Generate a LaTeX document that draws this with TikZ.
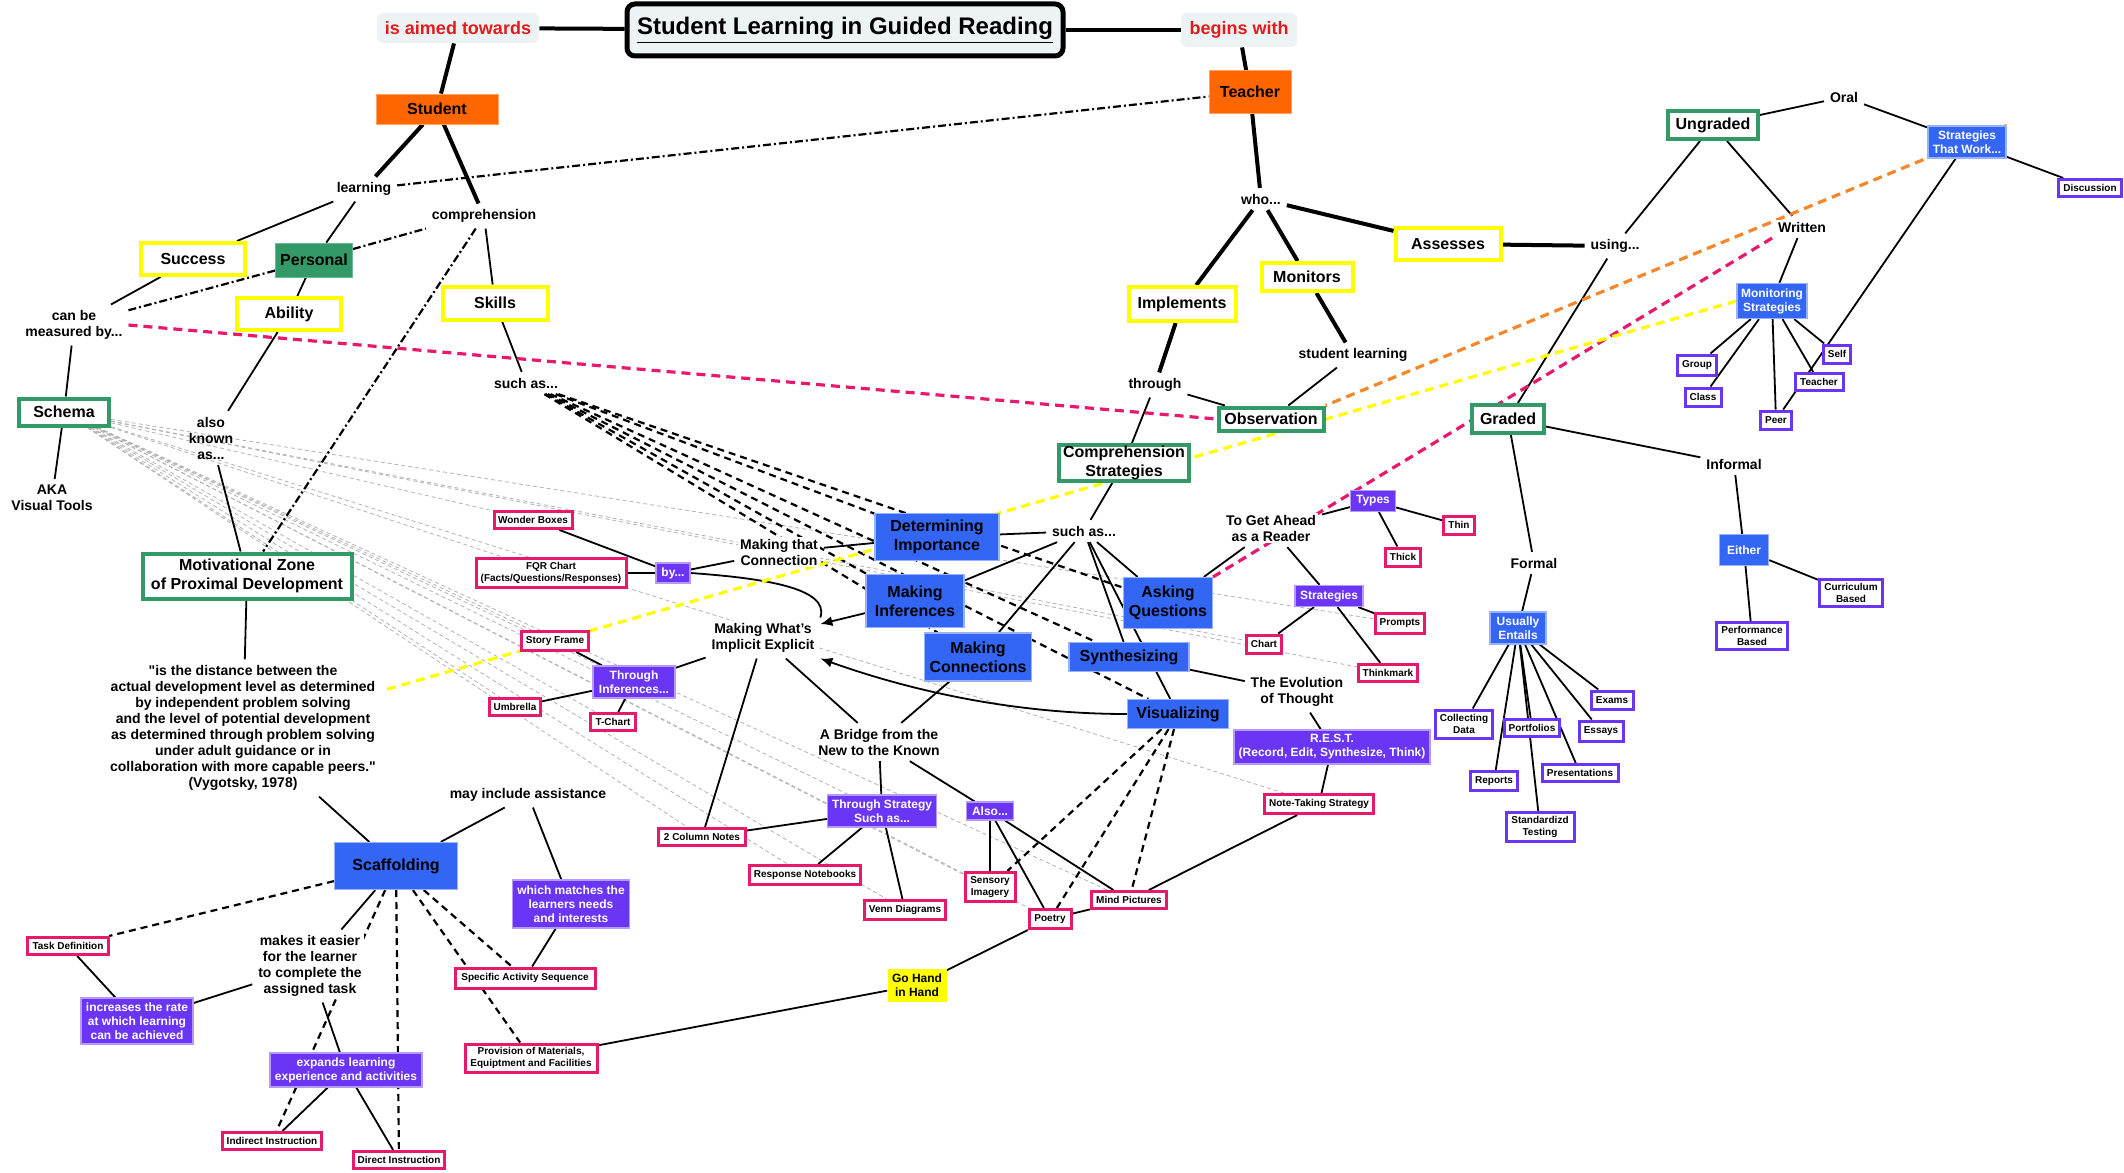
\documentclass[tikz,border=0pt]{standalone}
\usepackage{fontspec}
\setmainfont{Liberation Sans}
\usepackage{xcolor}
\usepackage{tikz}
\usetikzlibrary{arrows.meta,positioning,calc,backgrounds}

\definecolor{orangefill}{HTML}{FF6600}
\definecolor{boxyellow}{HTML}{FFFF00}
\definecolor{boxgreen}{HTML}{339966}
\definecolor{boxblue}{HTML}{3366F5}
\definecolor{boxpurple}{HTML}{6A35F5}
\definecolor{boxpink}{HTML}{E6196A}
\definecolor{labelfill}{HTML}{EDF3F5}
\definecolor{linkred}{HTML}{E31B1B}
\definecolor{dashorange}{HTML}{F5862A}
\definecolor{dashpink}{HTML}{E8196C}

\newcommand{\fbig}{\bfseries\fontsize{8}{9.5}\selectfont}
\newcommand{\fmid}{\bfseries\fontsize{7}{8}\selectfont}
\newcommand{\fsix}{\bfseries\fontsize{6}{7}\selectfont}
\newcommand{\fsmall}{\bfseries\fontsize{5}{5.8}\selectfont}

\begin{document}
\begin{tikzpicture}[
    x=0.5pt, y=-0.5pt,
    every node/.style={align=center, inner xsep=2pt, inner ysep=1pt},
    wh/.style 2 args={minimum width=#1, minimum height=#2},
    titlebox/.style={draw, line width=2.5pt, rounded corners=4pt, fill=labelfill, font=\bfseries\fontsize{12}{14}\selectfont},
    redlink/.style={fill=labelfill, rounded corners=3pt, text=linkred, font=\bfseries\fontsize{9}{10}\selectfont},
    orangebox/.style={fill=orangefill, draw=orangefill!60, font=\fbig},
    yellowbox/.style={draw=boxyellow, line width=2pt, fill=white, font=\fbig},
    greenbox/.style={draw=boxgreen, line width=2pt, fill=white, font=\fbig},
    greenfill/.style={fill=boxgreen, draw=boxgreen!70, font=\fbig},
    bluebox/.style={fill=boxblue, draw=boxblue!50!white, line width=0.6pt, font=\fbig},
    bluesmall/.style={fill=boxblue, draw=boxblue!50!white, line width=0.6pt, text=white, font=\fsix},
    purplebox/.style={fill=boxpurple, draw=boxpurple!50!white, line width=0.6pt, text=white, font=\fsix},
    pinkbox/.style={draw=boxpink, line width=1.5pt, fill=white, font=\fsmall},
    violetbox/.style={draw=boxpurple, line width=1.5pt, fill=white, font=\fsmall},
    gobox/.style={fill=boxyellow, font=\fsix},
    phrase/.style={fill=white, inner sep=1pt, outer sep=2pt, font=\fmid},
    thickln/.style={line width=2pt},
    thinln/.style={line width=0.9pt},
    ddln/.style={line width=1.1pt, dash pattern=on 4pt off 1.5pt on 1pt off 1.5pt},
    bdash/.style={line width=1.1pt, dash pattern=on 3.5pt off 2.5pt},
    pinkdash/.style={draw=dashpink, line width=1.6pt, dash pattern=on 4.5pt off 3pt},
    orangedash/.style={draw=dashorange, line width=1.6pt, dash pattern=on 4.5pt off 3pt},
    yellowdash/.style={draw=boxyellow, line width=1.6pt, dash pattern=on 4.5pt off 3pt},
    graydash/.style={draw=gray!60, line width=0.4pt, dash pattern=on 2pt off 1.5pt},
    arrowln/.style={thinln, -{Latex[length=6pt,width=5pt]}}
]
\useasboundingbox (0,0) rectangle (2124,1172);

% Title and top links
\node[titlebox, wh={218pt}{26pt}] (title) at (845,30) {\underline{Student Learning in Guided Reading}};
\node[redlink, wh={81pt}{15pt}] (isaimed) at (458,28) {is aimed towards};
\node[redlink, wh={58pt}{17pt}] (begins) at (1239,30) {begins with};
\node[orangebox, wh={61pt}{15pt}] (student) at (437,109) {Student};
\node[orangebox, wh={41pt}{21.5pt}] (teacher) at (1250,92) {Teacher};

% Student side
\node[phrase] (learning) at (364,189) {learning};
\node[phrase] (comprehension) at (484,216) {comprehension};
\node[yellowbox, wh={52pt}{16pt}] (success) at (193,259) {Success};
\node[greenfill, wh={38.5pt}{17pt}] (personal) at (314,260) {Personal};
\node[yellowbox, wh={52pt}{16pt}] (ability) at (289,314) {Ability};
\node[yellowbox, wh={52.5pt}{16.5pt}] (skills) at (495,303) {Skills};
\node[phrase] (canbe) at (74,325) {can be\\measured by...};
\node[greenbox, wh={45pt}{13.5pt}] (schema) at (64,412) {Schema};
\node[phrase] (aka) at (52,498) {AKA\\Visual Tools};
\node[phrase, fill=none] (alsoknown) at (211,438) {also\\known\\as...};
\node[greenbox, wh={104.5pt}{22.5pt}] (motivzone) at (247,576) {Motivational Zone\\of Proximal Development};
\node[phrase] (quote) at (243,728) {\textquotedbl is the distance between the\\actual development level as determined\\by independent problem solving\\and the level of potential development\\as determined through problem solving\\under adult guidance or in\\collaboration with more capable peers.\textquotedbl\\(Vygotsky, 1978)};
\node[phrase] (suchasA) at (526,383) {such as...};

% Teacher side
\node[phrase] (who) at (1261,199) {who...};
\node[yellowbox, wh={53.5pt}{17pt}] (implements) at (1182,304) {Implements};
\node[yellowbox, wh={45.5pt}{14pt}] (monitors) at (1307,277) {Monitors};
\node[yellowbox, wh={52.5pt}{16pt}] (assesses) at (1448,244) {Assesses};
\node[phrase] (studlearn) at (1353,355) {student learning};
\node[phrase] (through) at (1155,385) {through};
\node[greenbox, wh={52.5pt}{11.5pt}] (observation) at (1271,419) {Observation};
\node[greenbox, wh={64.5pt}{18pt}, inner ysep=0.5pt] (compstrat) at (1124,463) {Comprehension\\Strategies};

% Assessment
\node[phrase] (using) at (1615,246) {using...};
\node[greenbox, wh={45pt}{14pt}] (ungraded) at (1713,125) {Ungraded};
\node[phrase] (oral) at (1844,97) {Oral};
\node[bluesmall, wh={39pt}{16pt}] (stw) at (1967,142) {Strategies\\That Work...};
\node[violetbox, wh={31.5pt}{8.5pt}] (discussion) at (2090,188) {Discussion};
\node[phrase] (written) at (1802,227) {Written};
\node[bluesmall, wh={35pt}{17.5pt}] (ms) at (1772,301) {Monitoring\\Strategies};
\node[violetbox, wh={19.5pt}{10pt}] (group) at (1697,365) {Group};
\node[violetbox, wh={18pt}{9pt}] (class) at (1703,397) {Class};
\node[violetbox, wh={15.5pt}{9pt}] (peer) at (1776,420) {Peer};
\node[violetbox, wh={24pt}{8.5pt}] (tsmall) at (1819,382) {Teacher};
\node[violetbox, wh={13.5pt}{9pt}] (self) at (1837,354) {Self};
\node[greenbox, wh={36pt}{14pt}] (graded) at (1508,419) {Graded};
\node[phrase] (informal) at (1734,464) {Informal};
\node[bluesmall, wh={24.5pt}{15.5pt}] (either) at (1744,550) {Either};
\node[violetbox, wh={31.5pt}{13.5pt}] (curric) at (1851,593) {Curriculum\\Based};
\node[violetbox, wh={35.5pt}{13.5pt}] (perf) at (1752,636) {Performance\\Based};
\node[phrase] (formal) at (1534,563) {Formal};
\node[bluesmall, wh={28pt}{16pt}] (entails) at (1518,628) {Usually\\Entails};
\node[violetbox, wh={28.5pt}{14pt}] (collecting) at (1464,724) {Collecting\\Data};
\node[violetbox, wh={27.5pt}{8.5pt}] (portfolios) at (1532,728) {Portfolios};
\node[violetbox, wh={23.5pt}{9.5pt}] (reports) at (1494,781) {Reports};
\node[violetbox, wh={34pt}{14.5pt}] (standardizd) at (1540,827) {Standardizd\\Testing};
\node[violetbox, wh={38pt}{8.5pt}] (presentations) at (1580,773) {Presentations};
\node[violetbox, wh={22pt}{10pt}] (essays) at (1601,731) {Essays};
\node[violetbox, wh={21pt}{9pt}] (exams) at (1612,700) {Exams};

% Comprehension strategies
\node[phrase] (suchasB) at (1084,531) {such as...};
\node[bluebox, wh={62pt}{23.5pt}] (detimp) at (937,537) {Determining\\Importance};
\node[bluebox, wh={49pt}{26.5pt}] (makinf) at (915,601) {Making\\Inferences};
\node[bluebox, wh={53.5pt}{24pt}] (makconn) at (978,657) {Making\\Connections};
\node[bluebox, wh={44.5pt}{25.5pt}] (askq) at (1168,603) {Asking\\Questions};
\node[bluebox, wh={60pt}{14.5pt}] (synth) at (1129,657) {Synthesizing};
\node[bluebox, wh={50.5pt}{14.5pt}] (visual) at (1178,714) {Visualizing};

% Asking questions and synthesizing
\node[phrase] (toget) at (1271,528) {To Get Ahead\\as a Reader};
\node[purplebox, wh={22.5pt}{10.5pt}] (types) at (1373,501) {Types};
\node[pinkbox, wh={15.5pt}{9pt}] (thin) at (1459,525) {Thin};
\node[pinkbox, wh={17.5pt}{9pt}] (thick) at (1403,557) {Thick};
\node[purplebox, wh={34pt}{10.5pt}] (strats) at (1329,596) {Strategies};
\node[pinkbox, wh={24.5pt}{10pt}] (prompts) at (1400,623) {Prompts};
\node[pinkbox, wh={17.5pt}{9pt}] (chart) at (1264,644) {Chart};
\node[pinkbox, wh={29.5pt}{8.5pt}] (thinkmark) at (1388,673) {Thinkmark};
\node[phrase] (evolution) at (1297,692) {The Evolution\\of Thought};
\node[purplebox, wh={98pt}{17pt}] (rest) at (1332,747) {R.E.S.T.\\(Record, Edit, Synthesize, Think)};
\node[pinkbox, wh={54.5pt}{9.5pt}] (notetaking) at (1319,804) {Note-Taking Strategy};
\node[pinkbox, wh={37.5pt}{8.5pt}] (mindpics) at (1129,900) {Mind Pictures};

% Inferences and connections
\node[pinkbox, wh={39pt}{8.5pt}] (wonder) at (533,520) {Wonder Boxes};
\node[pinkbox, wh={75pt}{14.5pt}] (fqr) at (551,573) {FQR Chart\\(Facts/Questions/Responses)};
\node[purplebox, wh={17pt}{10pt}] (by) at (673,573) {by...};
\node[phrase] (makingconn) at (779,552) {Making that\\Connection};
\node[phrase] (mwie) at (763,638) {Making What's\\Implicit Explicit};
\node[pinkbox, wh={33.5pt}{9.5pt}] (storyframe) at (555,641) {Story Frame};
\node[purplebox, wh={41pt}{16pt}] (thrinf) at (634,682) {Through\\Inferences...};
\node[pinkbox, wh={25pt}{8.5pt}] (umbrella) at (515,707) {Umbrella};
\node[pinkbox, wh={22.5pt}{8.5pt}] (tchart) at (613,722) {T-Chart};
\node[phrase] (bridge) at (879,742) {A Bridge from the\\New to the Known};
\node[pinkbox, wh={43.5pt}{8.5pt}] (twocol) at (702,837) {2 Column Notes};
\node[purplebox, wh={54.5pt}{16pt}] (thrstrat) at (882,811) {Through Strategy\\Such as...};
\node[pinkbox, wh={55.5pt}{9.5pt}] (resp) at (805,875) {Response Notebooks};
\node[pinkbox, wh={40.5pt}{9.5pt}] (venn) at (905,910) {Venn Diagrams};
\node[purplebox, wh={23.5pt}{9pt}] (also) at (990,811) {Also...};
\node[pinkbox, wh={25pt}{14.5pt}] (sensory) at (990,887) {Sensory\\Imagery};
\node[pinkbox, wh={21pt}{9.5pt}] (poetry) at (1050,919) {Poetry};
\node[gobox, wh={29.5pt}{16.5pt}] (gohand) at (917,985) {Go Hand\\in Hand};

% Scaffolding
\node[phrase] (mayinclude) at (528,795) {may include assistance};
\node[purplebox, wh={58.5pt}{24pt}] (matches) at (571,904) {which matches the\\learners needs\\and interests};
\node[pinkbox, wh={70pt}{10pt}] (sas) at (525,978) {Specific Activity Sequence};
\node[pinkbox, wh={66pt}{14pt}] (provision) at (531,1058) {Provision of Materials,\\Equiptment and Facilities};
\node[bluebox, wh={61.5pt}{23.5pt}] (scaffolding) at (396,866) {Scaffolding};
\node[pinkbox, wh={40.5pt}{8.5pt}] (taskdef) at (68,946) {Task Definition};
\node[purplebox, wh={56pt}{23pt}] (increases) at (137,1021) {increases the rate\\at which learning\\can be achieved};
\node[phrase] (easier) at (310,966) {makes it easier\\for the learner\\to complete the\\assigned task};
\node[purplebox, wh={76pt}{17pt}] (expands) at (346,1070) {expands learning\\experience and activities};
\node[pinkbox, wh={49.5pt}{8.5pt}] (indirect) at (272,1141) {Indirect Instruction};
\node[pinkbox, wh={45.5pt}{8.5pt}] (direct) at (399,1160) {Direct Instruction};

\begin{scope}[on background layer]
\fill[white] (0,0) rectangle (2124,1172);

% Gray links from Schema
\draw[graydash] (schema) -- (wonder);
\draw[graydash] (schema) -- (fqr);
\draw[graydash] (schema) -- (storyframe);
\draw[graydash] (schema) -- (umbrella);
\draw[graydash] (schema) -- (tchart);
\draw[graydash] (schema) -- (thrinf);
\draw[graydash] (schema) -- (twocol);
\draw[graydash] (schema) -- (resp);
\draw[graydash] (schema) -- (thrstrat);
\draw[graydash] (schema) -- (venn);
\draw[graydash] (schema) -- (sensory);
\draw[graydash] (schema) -- (poetry);
\draw[graydash] (schema) -- (mindpics);
\draw[graydash] (schema) -- (notetaking);
\draw[graydash] (schema) -- (chart);
\draw[graydash] (schema) -- (prompts);
\draw[graydash] (schema) -- (thinkmark);

% Main links
\draw[thickln] (isaimed) -- (title);
\draw[thickln] (title) -- (begins);
\draw[thickln] (isaimed) -- (student);
\draw[thickln] (begins) -- (teacher);
\draw[thickln] (student) -- (learning);
\draw[thickln] (student) -- (comprehension);
\draw[thickln] (teacher) -- (who);
\draw[thickln] (who) -- (implements);
\draw[thickln] (who) -- (monitors);
\draw[thickln] (who) -- (assesses);
\draw[thickln] (assesses) -- (using);
\draw[thickln] (implements) -- (through);
\draw[thickln] (monitors) -- (studlearn);

% Dash-dot links
\draw[ddln] (learning) -- (teacher);
\draw[ddln] (personal) -- (comprehension.south west);
\draw[ddln] (personal) -- (canbe);
\draw[ddln] (comprehension) -- (motivzone);

% Student side
\draw[thinln] (learning) -- (success);
\draw[thinln] (learning) -- (personal);
\draw[thinln] (success) -- (canbe);
\draw[thinln] (personal) -- (ability);
\draw[thinln] (ability) -- (alsoknown);
\draw[thinln] (comprehension) -- (skills);
\draw[thinln] (skills) -- (suchasA);
\draw[thinln] (canbe) -- (schema);
\draw[thinln] (schema) -- (aka);
\draw[thinln] (alsoknown) -- (motivzone);
\draw[thinln] (motivzone) -- (quote);
\draw[thinln] (quote) -- (scaffolding);

% Scaffolding
\draw[thinln] (mayinclude) -- (scaffolding);
\draw[thinln] (mayinclude) -- (matches);
\draw[thinln] (matches) -- (sas);
\draw[thinln] (taskdef) -- (increases);
\draw[thinln] (increases) -- (easier);
\draw[thinln] (scaffolding) -- (easier);
\draw[thinln] (easier) -- (expands);
\draw[thinln] (expands) -- (indirect);
\draw[thinln] (expands) -- (direct);
\draw[bdash] (scaffolding) -- (taskdef);
\draw[bdash] (scaffolding) -- (indirect);
\draw[bdash] (scaffolding) -- (direct);
\draw[bdash] (scaffolding) -- (sas);
\draw[bdash] (scaffolding) -- (provision);
\draw[thinln] (gohand) -- (provision);

% Strategies from Skills
\draw[bdash] (suchasA) -- (detimp);
\draw[bdash] (suchasA) -- (makinf);
\draw[bdash] (suchasA) -- (makconn);
\draw[bdash] (suchasA) -- (askq);
\draw[bdash] (suchasA) -- (synth);
\draw[bdash] (suchasA) -- (visual);

% Inferences and connections
\draw[thinln] (wonder) -- (by);
\draw[thinln] (fqr) -- (by);
\draw[thinln] (by) -- (makingconn);
\draw[thinln] (makingconn) -- (detimp);
\draw[thinln] (by.east) .. controls +(70,5) and +(10,-30) .. (mwie.north east);
\draw[arrowln] (makinf) -- (mwie);
\draw[arrowln] (visual.west) .. controls +(-130,0) and +(70,25) .. (mwie.south east);
\draw[thinln] (storyframe) -- (thrinf);
\draw[thinln] (umbrella) -- (thrinf);
\draw[thinln] (tchart) -- (thrinf);
\draw[thinln] (thrinf) -- (mwie);
\draw[thinln] (mwie) -- (bridge);
\draw[thinln] (mwie) -- (twocol);
\draw[thinln] (makconn) -- (bridge);
\draw[thinln] (bridge) -- (thrstrat);
\draw[thinln] (bridge) -- (also);
\draw[thinln] (thrstrat) -- (twocol);
\draw[thinln] (thrstrat) -- (resp);
\draw[thinln] (thrstrat) -- (venn);
\draw[thinln] (also) -- (sensory);
\draw[thinln] (also) -- (poetry);
\draw[thinln] (also) -- (mindpics);
\draw[thinln] (poetry) -- (mindpics);
\draw[thinln] (poetry) -- (gohand);
\draw[bdash] (visual) -- (sensory);
\draw[bdash] (visual) -- (poetry);
\draw[bdash] (visual) -- (mindpics);

% Comprehension strategies
\draw[thinln] (through) -- (compstrat);
\draw[thinln] (through) -- (observation);
\draw[thinln] (studlearn) -- (observation);
\draw[thinln] (compstrat) -- (suchasB);
\draw[thinln] (detimp) -- (suchasB);
\draw[thinln] (makinf) -- (suchasB);
\draw[thinln] (makconn) -- (suchasB);
\draw[thinln] (suchasB) -- (askq);
\draw[thinln] (suchasB) -- (synth);
\draw[thinln] (suchasB) -- (visual);
\draw[thinln] (toget) -- (askq);
\draw[thinln] (toget) -- (types);
\draw[thinln] (toget) -- (strats);
\draw[thinln] (types) -- (thin);
\draw[thinln] (types) -- (thick);
\draw[thinln] (strats) -- (chart);
\draw[thinln] (strats) -- (prompts);
\draw[thinln] (strats) -- (thinkmark);
\draw[thinln] (synth) -- (evolution);
\draw[thinln] (evolution) -- (rest);
\draw[thinln] (rest) -- (notetaking);
\draw[thinln] (notetaking) -- (mindpics);

% Assessment
\draw[thinln] (ungraded) -- (using);
\draw[thinln] (using) -- (graded);
\draw[thinln] (ungraded) -- (oral);
\draw[thinln] (ungraded) -- (written);
\draw[thinln] (oral) -- (stw);
\draw[thinln] (stw) -- (discussion);
\draw[thinln] (stw) -- (peer);
\draw[thinln] (written) -- (ms);
\draw[thinln] (ms) -- (group);
\draw[thinln] (ms) -- (class);
\draw[thinln] (ms) -- (peer);
\draw[thinln] (ms) -- (tsmall);
\draw[thinln] (ms) -- (self);
\draw[thinln] (graded) -- (formal);
\draw[thinln] (graded) -- (informal);
\draw[thinln] (informal) -- (either);
\draw[thinln] (either) -- (curric);
\draw[thinln] (either) -- (perf);
\draw[thinln] (formal) -- (entails);
\draw[thinln] (entails) -- (collecting);
\draw[thinln] (entails) -- (portfolios);
\draw[thinln] (entails) -- (reports);
\draw[thinln] (entails) -- (standardizd);
\draw[thinln] (entails) -- (presentations);
\draw[thinln] (entails) -- (essays);
\draw[thinln] (entails) -- (exams);

% Cross links
\draw[pinkdash] (canbe.east) -- (observation.west);
\draw[pinkdash] (written.south west) -- (askq.north east);
\draw[orangedash] (stw.north east) -- (observation.north east);
\draw[yellowdash] (ms.west) -- (quote.15);
\end{scope}

\end{tikzpicture}
\end{document}
